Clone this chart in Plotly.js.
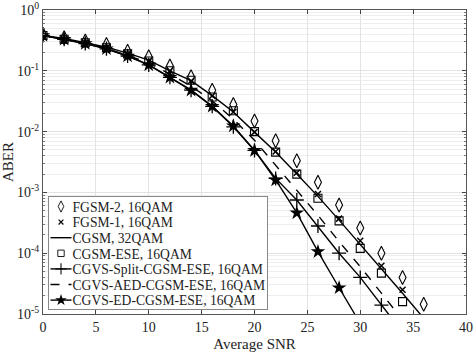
<!DOCTYPE html>
<html><head><meta charset="utf-8">
<script src="https://cdn.plot.ly/plotly-3.0.1.min.js"></script>
<style>html,body{margin:0;padding:0;background:#fff}#chart{width:474px;height:354px}</style>
</head><body><div id="chart"></div>
<script>
const snr = [0,2,4,6,8,10,12,14,16,18,20,22,24,26,28,30,32,34,36];
const fgsm2 = [0.40,0.35,0.31,0.27,0.21,0.17,0.12,0.080,0.048,0.028,0.015,0.0071,0.0033,0.00147,6.2e-4,2.6e-4,1.0e-4,4.0e-5,1.45e-5];
const fgsm1 = [0.37,0.33,0.29,0.24,0.19,0.145,0.10,0.068,0.039,0.021,0.0098,0.0047,0.0021,9.4e-4,3.7e-4,1.6e-4,6.2e-5,2.5e-5];
const cgsm32 = [0.38,0.34,0.29,0.245,0.195,0.15,0.10,0.069,0.039,0.021,0.0098,0.0046,0.0020,8.6e-4,3.5e-4,1.4e-4,5.5e-5,2.2e-5,8.5e-6];
const cgsmEse = [0.38,0.33,0.29,0.24,0.19,0.145,0.10,0.07,0.037,0.022,0.010,0.0046,0.0020,8.0e-4,3.4e-4,1.2e-4,4.7e-5,1.6e-5];
const split = [0.38,0.33,0.28,0.23,0.175,0.125,0.078,0.048,0.026,0.012,0.0049,0.0017,7.5e-4,2.8e-4,1.0e-4,4.0e-5,1.4e-5,5e-6];
const aed = [0.38,0.33,0.285,0.235,0.18,0.135,0.088,0.056,0.032,0.016,0.0072,0.0028,0.0011,4.2e-4,1.55e-4,6e-5,2.2e-5,8e-6];
const ed = [0.38,0.33,0.28,0.23,0.175,0.125,0.078,0.048,0.026,0.0124,0.0049,0.0016,4.6e-4,1.06e-4,2.7e-5,7e-6];
const names = ['FGSM-2, 16QAM','FGSM-1, 16QAM','CGSM, 32QAM','CGSM-ESE, 16QAM','CGVS-Split-CGSM-ESE, 16QAM','CGVS-AED-CGSM-ESE, 16QAM','CGVS-ED-CGSM-ESE, 16QAM'];
const xTicks = [0,5,10,15,20,25,30,35,40];
const yTicks = [1,0.1,0.01,0.001,1e-4,1e-5];
const yTickText = ['10<sup>0</sup>','10<sup>-1</sup>','10<sup>-2</sup>','10<sup>-3</sup>','10<sup>-4</sup>','10<sup>-5</sup>'];

const K = '#000';
const sl = (n)=>snr.slice(0,n);
const traces = [
 {x:sl(fgsm2.length), y:fgsm2, name:names[0], mode:'markers', marker:{symbol:'diamond-tall-open', size:10, color:K, line:{width:1.1,color:K}}},
 {x:sl(fgsm1.length), y:fgsm1, name:names[1], mode:'markers', marker:{symbol:'x-thin-open', size:6, color:K, line:{width:1.5,color:K}}},
 {x:sl(cgsm32.length), y:cgsm32, name:names[2], mode:'lines', line:{color:K, width:1.4}},
 {x:sl(cgsmEse.length), y:cgsmEse, name:names[3], mode:'markers', marker:{symbol:'square-open', size:8, color:K, line:{width:1.1,color:K}}},
 {x:sl(split.length), y:split, name:names[4], mode:'lines+markers', line:{color:K, width:1.4}, marker:{symbol:'cross-thin-open', size:10, color:K, line:{width:1.3,color:K}}},
 {x:sl(aed.length), y:aed, name:names[5], mode:'lines', line:{color:K, width:1.4, dash:'dash'}},
 {x:sl(ed.length), y:ed, name:names[6], mode:'lines+markers', line:{color:K, width:1.4}, marker:{symbol:'star', size:11, color:K}}
];
const fam = 'Liberation Serif, Times New Roman, serif';
const font = {family:fam, size:14, color:'#222'};
const layout = {
 width:474, height:354, margin:{l:43, r:8, t:10, b:40, autoexpand:false},
 paper_bgcolor:'#fff', plot_bgcolor:'#fff', font:font, showlegend:true,
 xaxis:{range:[0,40], tickvals:xTicks, ticks:'inside', ticklen:4, tickcolor:'#444', showline:true, mirror:'ticks', linecolor:'#555', linewidth:1,
   showgrid:true, gridcolor:'#e3e3e3', zeroline:false, automargin:false, title:{text:'Average SNR', font:{family:fam, size:15, color:'#222'}, standoff:4}},
 yaxis:{type:'log', range:[-5,0], tickvals:yTicks, ticktext:yTickText, ticks:'inside', ticklen:4, tickcolor:'#444', showline:true, mirror:'ticks', linecolor:'#555', linewidth:1,
   showgrid:true, gridcolor:'#e3e3e3', zeroline:false, automargin:false,
   minor:{showgrid:true, gridcolor:'#eeeeee', ticks:'inside', ticklen:2, tickcolor:'#777', dtick:'D1'},
   title:{text:'ABER', font:{family:fam, size:15, color:'#222'}, standoff:2}},
 legend:{x:0.0118, y:0.385, xanchor:'left', yanchor:'top', bgcolor:'#fff', bordercolor:'#888', borderwidth:1,
   font:{family:fam, size:13.6, color:'#222'}, tracegroupgap:0, itemwidth:30}
};
const gd = document.getElementById('chart');
Plotly.newPlot(gd, traces, layout, {staticPlot:true, displayModeBar:false}).then(()=>{
  // compact the legend rows to match the reference spacing
  const leg = gd.querySelector('.legend');
  if(!leg) return;
  const bg = leg.querySelector('rect.bg');
  const items = Array.from(leg.querySelectorAll('g.traces'));
  const parse = (el)=>{const m=/translate\(([-\d.]+)[ ,]*([-\d.]*)\)/.exec(el.getAttribute('transform')||''); return m?[+m[1], +(m[2]||0)]:[0,0];};
  items.forEach(it=>{
    it.querySelectorAll('.legendlines path').forEach(p=>p.setAttribute('d','M2,0h21'));
    it.querySelectorAll('.legendpoints path.scatterpts').forEach(p=>p.setAttribute('transform','translate(12.5,0) scale(0.8)'));
    const t = it.querySelector('text.legendtext');
    if(t){ t.setAttribute('x', 24); t.querySelectorAll('tspan').forEach(s=>{ if(s.hasAttribute('x')) s.setAttribute('x',24); }); }
  });
  const bgR = bg.getBoundingClientRect();
  const bx = +bg.getAttribute('x')||0, by = +bg.getAttribute('y')||0;
  bg.setAttribute('x', bx + (48.5 - bgR.left));
  bg.setAttribute('y', by + (196.5 - bgR.top));
  bg.setAttribute('width', 219);
  bg.setAttribute('height', 113);
  const first = items[0];
  const [x0, y0] = parse(first);
  const lp = first.querySelector('.legendpoints path.scatterpts').getBoundingClientRect();
  const dy = 206.5 - (lp.top+lp.bottom)/2;
  const dx = 61 - (lp.left+lp.right)/2;
  items.forEach((it,i)=>{
    it.setAttribute('transform', `translate(${x0+dx},${y0+dy+i*15.6})`);
  });
  const cp = leg.querySelector('clipPath rect');
  if(cp){ cp.setAttribute('height', 400); cp.setAttribute('width', 400); }
});
</script></body></html>
